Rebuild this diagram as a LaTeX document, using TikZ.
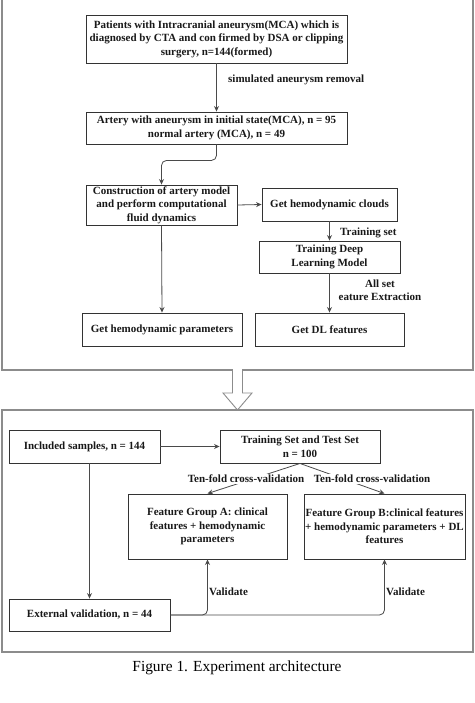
\documentclass[tikz,border=0pt]{standalone}
\usepackage{fontspec}
\setmainfont{Liberation Serif}
\usetikzlibrary{arrows.meta}
\definecolor{framegray}{HTML}{8C8C8C}
\definecolor{boxline}{HTML}{333333}
\definecolor{conn}{HTML}{4A4A4A}
\begin{document}
\begin{tikzpicture}[x=1pt,y=-1pt,
  box/.style={draw=boxline, line width=0.9pt, fill=white, align=center, inner sep=1pt,
    font=\fontsize{11}{13.5}\selectfont\bfseries, text=black!90},
  lab/.style={font=\fontsize{11}{12.5}\selectfont\bfseries, text=black!90, inner sep=1pt, align=center},
  conn/.style={draw=conn, line width=0.8pt, -{Stealth[length=5.5pt,width=5pt]}},
  frame/.style={draw=framegray, line width=2pt}
]
\useasboundingbox (0,0) rectangle (474,703);
% panels
\draw[frame] (1.5,0) -- (1.5,370) -- (472.5,370) -- (472.5,0);
\draw[frame] (1.5,410) rectangle (472.5,652);
% hollow arrow
\draw[draw=framegray, line width=0.9pt, fill=white] (232.5,369) -- (232.5,393) -- (223,393) -- (237.5,410) -- (252,393) -- (242.5,393) -- (242.5,369);

% top panel boxes
\node[box, minimum width=261, minimum height=48] (b1) at (216.5,39)
  {Patients with Intracranial aneurysm(MCA) which is\\diagnosed by CTA and con firmed by DSA or clipping\\surgery, n=144(formed)};
\node[box, minimum width=261, minimum height=32] (b2) at (216.5,128)
  {Artery with aneurysm in initial state(MCA), n = 95\\normal artery (MCA), n = 49};
\node[box, minimum width=151, minimum height=40] (b3) at (161.5,205)
  {Construction of artery model\\and perform computational\\fluid dynamics};
\node[box, minimum width=135, minimum height=33] (b4) at (329.5,204.5)
  {Get hemodynamic clouds};
\node[box, minimum width=141, minimum height=32] (b5) at (329.5,257)
  {Training Deep\\Learning Model};
\node[box, minimum width=160, minimum height=33] (b6) at (162,329.5)
  {Get hemodynamic parameters};
\node[box, minimum width=149, minimum height=33] (b7) at (329.5,329.5)
  {Get DL features};

\draw[conn] (b1.south) -- (b2.north);
\node[lab, anchor=west] (l1) at (227,80) {simulated aneurysm removal};
\draw[conn, rounded corners=5pt] (b2.south) -- ++(0,16) -| (b3.north);
\draw[conn] (b3.east) -- (b4.west);
\draw[conn] (b4.south) -- (b5.north);
\node[lab, anchor=west] (l2) at (339,233) {Training set};
\draw[conn] (b5.south) -- (b7.north);
\node[lab] (l3) at (380,290) {All set\\eature Extraction};
\draw[conn] (b3.south) -- (b6.north);

% bottom panel boxes
\node[box, minimum width=151, minimum height=33] (b8) at (84.5,446.5)
  {Included samples, n = 144};
\node[box, minimum width=160, minimum height=33] (b9) at (300,446.5)
  {Training Set and Test Set\\n = 100};
\node[box, minimum width=159, minimum height=65] (b10) at (207.5,526.5)
  {Feature Group A: clinical\\features + hemodynamic\\parameters};
\node[box, minimum width=161, minimum height=65] (b11) at (384.5,526.5)
  {Feature Group B:clinical features\\+ hemodynamic parameters + DL\\features};
\node[box, minimum width=161, minimum height=32] (b12) at (89.5,615)
  {External validation, n = 44};

\draw[conn] (b8.east) -- (b9.west);
\draw[conn] (b12.north |- b8.south) -- (b12.north);
\draw[conn] (b9.south) -- (b10.north);
\draw[conn] (b9.south) -- (b11.north);
\node[lab, fill=white, inner sep=1.5pt] (l4) at (246,479) {Ten-fold cross-validation};
\node[lab, fill=white, inner sep=1.5pt] (l5) at (372,479) {Ten-fold cross-validation};
\draw[conn, rounded corners=5pt] (b12.east) -| (b10.south);
\draw[conn, rounded corners=5pt] (b12.east) -| (b11.south);
\node[lab, anchor=west] (l6) at (208,592) {Validate};
\node[lab, anchor=west] (l7) at (385,592) {Validate};

\node[font=\fontsize{15.4}{17}\selectfont, text=black] (cap) at (237,668) {Figure 1. Experiment architecture};
\end{tikzpicture}
\end{document}
